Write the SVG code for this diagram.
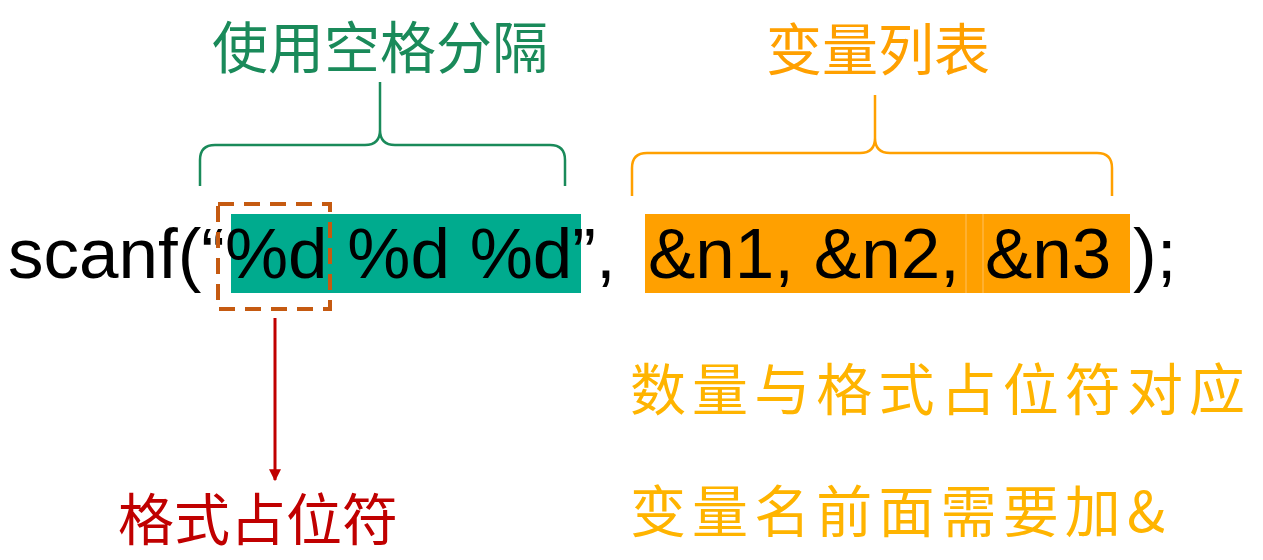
<svg xmlns="http://www.w3.org/2000/svg" width="1263" height="560" viewBox="0 0 1263 560">
<style>
.code{font-family:"Liberation Sans",Arial,sans-serif;font-size:71px;fill:#000}
.cjk{font-family:"Noto Sans CJK SC",sans-serif;font-size:56px}
.br{fill:none;stroke-width:2.5}
</style>
<defs><marker id="ah" viewBox="0 0 10 10" refX="9" refY="5" markerWidth="4" markerHeight="4" orient="auto"><path d="M0,0L10,5L0,10z" fill="#c00000"/></marker></defs>
<rect width="1263" height="560" fill="#fff"/>
<g id="teal"><rect x="231" y="214" width="350" height="79" fill="#00ab8e"/></g>
<g id="orangebox"><rect x="645" y="214" width="485" height="79" fill="#ffa000"/><line x1="966" y1="214" x2="966" y2="293" stroke="#ffc060" stroke-width="1"/><line x1="983" y1="214" x2="983" y2="293" stroke="#ffc060" stroke-width="1"/></g>
<g id="code"><text class="code" x="8" y="278">scanf(“%d %d %d”, </text><text class="code" x="648" y="278">&amp;n1, &amp;n2, </text><text class="code" x="985" y="278">&amp;n3</text><text class="code" x="1133" y="278">);</text></g>
<g id="dashbox"><rect x="218" y="204" width="112" height="105" fill="none" stroke="#c55a11" stroke-width="4" stroke-dasharray="16,10"/></g>
<g id="connectors">
<path class="br" stroke="#1a8a5a" d="M200,186 V160 Q200,145 215,145 H365 Q380,145 380,130 V82 M380,130 Q380,145 395,145 H550 Q565,145 565,160 V186"/>
<path class="br" stroke="#ffa000" d="M632,196 V168 Q632,153 647,153 H860 Q875,153 875,138 V95 M875,138 Q875,153 890,153 H1097 Q1112,153 1112,168 V196"/>
<line x1="275" y1="318" x2="275" y2="480" stroke="#c00000" stroke-width="3" marker-end="url(#ah)"/>
</g>
<g id="labels">
<text class="cjk" x="380" y="68" text-anchor="middle" fill="#1a8a5a">使用空格分隔</text>
<text class="cjk" x="878" y="70" text-anchor="middle" fill="#ffa000">变量列表</text>
<text class="cjk" x="258" y="540" text-anchor="middle" fill="#c00000">格式占位符</text>
<text class="cjk" x="630" y="410" fill="#ffb400" textLength="615">数量与格式占位符对应</text>
<text class="cjk" x="630" y="532" fill="#ffb400" textLength="535">变量名前面需要加&amp;</text>
</g>
</svg>
